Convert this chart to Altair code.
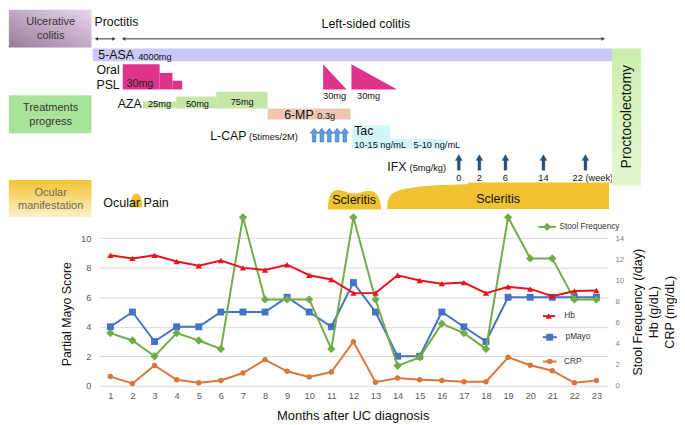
import altair as alt
import pandas as pd

# ---------------- data ----------------
months = list(range(1, 24))
pmayo = [4, 5, 3, 4, 4, 5, 5, 5, 6, 5, 4, 7, 5, 2, 2, 5, 4, 3, 6, 6, 6, 6, 6]
stool = [5.0, 4.3, 2.8, 5.0, 4.3, 3.5, 16.0, 8.2, 8.2, 8.2, 3.5, 16.0, 8.2, 1.9, 2.7,
         5.9, 5.0, 3.5, 16.0, 12.1, 12.1, 8.2, 8.2]
hb = [12.4, 12.1, 12.4, 11.8, 11.4, 11.9, 11.2, 11.0, 11.5, 10.5, 10.1, 8.8, 8.8, 10.5,
      10.0, 9.7, 9.8, 8.8, 9.4, 9.2, 8.5, 9.0, 9.05]
crp = [0.87, 0.22, 1.92, 0.56, 0.28, 0.5, 1.21, 2.48, 1.37, 0.84, 1.3, 4.18, 0.34, 0.74,
       0.56, 0.5, 0.37, 0.37, 2.7, 1.95, 1.43, 0.28, 0.5]
left_ticks = [0, 2, 4, 6, 8, 10]
right_ticks = [0, 2, 4, 6, 8, 10, 12, 14]

series_names = ["Stool Frequency", "Hb", "pMayo", "CRP"]
series_colors = {"Stool Frequency": "#70ad47", "Hb": "#e8141c", "pMayo": "#4472c4", "CRP": "#d8773c"}
series_shapes = {"Stool Frequency": "diamond", "Hb": "triangle-up", "pMayo": "square", "CRP": "circle"}
series_sizes = {"Stool Frequency": 70, "Hb": 40, "pMayo": 48, "CRP": 30}

# treatment periods (months after diagnosis)
asa_start, asa_end = [0.2], [23.7]
psl_start, psl_end = [1.56, 3.23, 3.81], [3.23, 3.81, 4.25]
psl_taper_start, psl_taper_end = [10.63, 11.91], [11.69, 13.98]
aza_start, aza_end = [2.48, 3.98, 5.79], [3.98, 5.79, 8.12]
mp_start, mp_end = [8.12], [11.87]
lcap_sessions = [10.22, 10.57, 10.91, 11.26, 11.61]
tac_start, tac_end = [11.91, 11.91], [13.67, 16.14]
ifx_months = [16.77, 17.70, 18.88, 20.60, 22.50]
ifx_weeks = ["0", "2", "6", "14"]

# ---------------- layout helpers ----------------
S = 0.98
X0, Y0 = 93.0, 207.0
W = round((615.3 - X0) * S)
H = round((386.5 - Y0) * S)
FONT = "Liberation Sans"


def px(x):
    return (x - X0) * S


def py(y):
    return (y - Y0) * S


X_SCALE = alt.Scale(domain=[0.5, 23.5], nice=False, zero=False)
X_AXIS = alt.Axis(values=months, title=None, grid=False, domain=False, ticks=False,
                  labelFontSize=9.5 * S, labelColor="#595959", labelPadding=6, labelFont=FONT)
ONE = pd.DataFrame({"a": [0]})


def mx(field):
    return alt.X(field, scale=X_SCALE, axis=X_AXIS)


def txt(rows, size, color="#111111", align="left", angle=0):
    df = pd.DataFrame({"t": [r[0] for r in rows],
                       "x": [px(r[1]) for r in rows],
                       "y": [py(r[2]) for r in rows]})
    return alt.Chart(df).mark_text(font=FONT, fontSize=size * S, color=color, align=align,
                                   baseline="middle", angle=angle).encode(
        x=alt.X("x:Q", scale=None), y=alt.Y("y:Q", scale=None), text="t:N")


def box(x1, x2, y1, y2, fill):
    return alt.Chart(ONE).mark_rect(fill=fill).encode(
        x=alt.value(px(x1)), x2=alt.value(px(x2)), y=alt.value(py(y1)), y2=alt.value(py(y2)))


def period(starts, ends, tops, bottoms, color):
    df = pd.DataFrame({"s": starts, "e": ends,
                       "t": [py(v) for v in tops], "b": [py(v) for v in bottoms]})
    return alt.Chart(df).mark_rect(color=color).encode(
        x=mx("s:Q"), x2="e:Q",
        y=alt.Y("t:Q", scale=None), y2="b:Q")


def grad(c1, c2, x1=0, y1=0, x2=0, y2=1):
    return alt.Gradient(gradient="linear",
                        stops=[alt.GradientStop(color=c1, offset=0), alt.GradientStop(color=c2, offset=1)],
                        x1=x1, y1=y1, x2=x2, y2=y2)


deco = []

# left category boxes
deco.append(box(0, 85, 0, 39, grad("#ead5ee", "#9a7b97", 1, 0, 0, 1)))
deco.append(box(0, 85, 88, 127, "#a9e29b"))
deco.append(box(0, 85, 175, 213, grad("#f1c232", "#fcf0c8")))
deco.append(txt([("Ulcerative", 43, 13), ("colitis", 43, 27)], 11.3, "#333333", "center"))
deco.append(txt([("Treatments", 43, 101), ("progress", 43, 115.5)], 11.3, "#333333", "center"))
deco.append(txt([("Ocular", 43, 188), ("manifestation", 43, 202)], 11.3, "#6e6450", "center"))

# disease extent arrows
for a, b in [(88, 110), (116, 613)]:
    deco.append(alt.Chart(ONE).mark_rule(color="#333333", strokeWidth=1).encode(
        x=alt.value(px(a + 2)), x2=alt.value(px(b - 2)), y=alt.value(py(30))))
    deco.append(alt.Chart(ONE).mark_point(shape="triangle-left", filled=True, color="#333333",
                                          size=14, opacity=1).encode(
        x=alt.value(px(a + 2)), y=alt.value(py(30))))
    deco.append(alt.Chart(ONE).mark_point(shape="triangle-right", filled=True, color="#333333",
                                          size=14, opacity=1).encode(
        x=alt.value(px(b - 2)), y=alt.value(py(30))))
deco.append(txt([("Proctitis", 88, 13)], 12.7))
deco.append(txt([("Left-sided colitis", 367, 15)], 12.7, align="center"))

# treatments
deco.append(period(asa_start, asa_end, [40], [53], "#c9c9f7"))
deco.append(period(psl_start, psl_end, [56, 65, 73], [82, 82, 82], "#dd338a"))
tri = pd.DataFrame({
    "id": [0, 0, 1, 1],
    "m": [psl_taper_start[0], psl_taper_end[0], psl_taper_start[1], psl_taper_end[1]],
    "y": [py(56), py(82), py(56), py(82)],
    "y2": [py(82)] * 4,
})
deco.append(alt.Chart(tri).mark_area(color="#dd338a", opacity=1).encode(
    x=mx("m:Q"), y=alt.Y("y:Q", scale=None), y2="y2:Q", detail="id:N"))
deco.append(period(aza_start, aza_end, [94.5, 89.3, 84.3], [101.7, 101.7, 101.7], "#c6e6a8"))
deco.append(period(mp_start, mp_end, [101.7], [113], "#eec6b0"))
deco.append(period(tac_start, tac_end, [119, 133], [133, 143.3], "#d2f6fa"))

lcap_df = pd.DataFrame({"m": lcap_sessions})
LCAP_ARROW = "M0,-1L0.56,-0.3L0.26,-0.3L0.26,1L-0.26,1L-0.26,-0.3L-0.56,-0.3Z"
deco.append(alt.Chart(lcap_df).mark_point(shape=LCAP_ARROW, filled=True, fill="#5b9ee0",
                                          stroke="#2f6db5", strokeWidth=0.6, size=(14 * S) ** 2,
                                          opacity=1).encode(
    x=mx("m:Q"), y=alt.value(py(129))))

ifx_df = pd.DataFrame({"m": ifx_months})
IFX_ARROW = "M0,-1L0.45,-0.25L0.19,-0.25L0.19,1L-0.19,1L-0.19,-0.25L-0.45,-0.25Z"
deco.append(alt.Chart(ifx_df).mark_point(shape=IFX_ARROW, filled=True, fill="#2f5070",
                                         stroke="#2f5070", strokeWidth=0.3, size=(16 * S) ** 2,
                                         opacity=1).encode(
    x=mx("m:Q"), y=alt.value(py(157))))
wk_df = pd.DataFrame({"m": ifx_months[:4], "w": ifx_weeks})
deco.append(alt.Chart(wk_df).mark_text(font=FONT, fontSize=9.5 * S, color="#111111",
                                       baseline="middle").encode(
    x=mx("m:Q"), y=alt.value(py(173)), text="w:N"))
deco.append(txt([("22 (week)", 579.5, 173)], 9.5))

deco.append(txt([("5-ASA", 92, 47), ("Oral", 90, 62.5), ("PSL", 90, 77), ("AZA", 112, 97),
                 ("6-MP", 283, 108), ("L-CAP", 207, 129.5), ("Tac", 355, 125),
                 ("IFX", 389, 161.5)], 12.7))
deco.append(txt([("30mg", 121, 76)], 11, "#222222"))
deco.append(txt([("4000mg", 133, 48.5), ("30mg", 323, 89), ("30mg", 358, 89),
                 ("25mg", 143, 97), ("50mg", 182, 97), ("75mg", 228, 94.7),
                 ("0.3g", 317, 109), ("(5times/2M)", 247, 130.5),
                 ("10-15 ng/mL", 355, 139), ("5-10 ng/mL", 416, 139),
                 ("(5mg/kg)", 412, 163)], 9.5))

# proctocolectomy
deco.append(box(620, 650, 40, 181, grad("#cdeeac", "#e4f7d2")))
deco.append(txt([("Proctocolectomy", 636, 110)], 14.4, align="center", angle=270))

# ocular manifestations (dome shapes)
domes = {
    0: [(125, 203), (125.3, 197), (127, 192), (129.5, 189.5), (131, 189), (132.5, 189.5),
        (135, 192), (136.7, 197), (137, 203)],
    1: [(327.7, 205.5), (328.5, 198), (331, 190), (335, 186), (339, 185), (344, 186.5),
        (350, 188.5), (356, 189), (362, 188), (368, 186.5), (372, 186.5), (377, 189),
        (380.5, 194), (382.2, 200), (382.7, 205.5)],
    2: [(389, 205), (389.3, 198), (391.5, 192), (396, 188), (404, 185), (418, 182.5),
        (440, 180.5), (470, 179.5), (471.6, 179.3), (471.8, 177.7), (617, 177.7)],
}
bottoms = {0: 203, 1: 205.5, 2: 205}
rows = []
for k, pts in domes.items():
    for (xx, yy) in pts:
        rows.append({"id": k, "x": px(xx), "y": py(yy), "y2": py(bottoms[k])})
dome_df = pd.DataFrame(rows)
deco.append(alt.Chart(dome_df).mark_area(color="#f0c232", opacity=1, interpolate="monotone").encode(
    x=alt.X("x:Q", scale=None), y=alt.Y("y:Q", scale=None), y2="y2:Q", detail="id:N"))
deco.append(txt([("Ocular Pain", 97, 198.3)], 12.9))
deco.append(txt([("Scleritis", 355, 196), ("Scleritis", 503, 195)], 12.9, align="center"))

# axis titles (manual)
deco.append(txt([("Partial Mayo Score", 60, 313)], 12.7, angle=270, align="center"))
deco.append(txt([("Stool Frequency (/day)", 647, 311), ("Hb (g/dL)", 663.5, 311),
                 ("CRP (mg/dL)", 680, 311)], 12.9, angle=270, align="center"))
deco.append(txt([("Months after UC diagnosis", 354, 418)], 13.3, align="center"))

# legend (manual, positioned inside plot)
legend_pos = {
    "Stool Frequency": (544.3, 562.3, 553.3, 223.3, 566),
    "Hb": (549, 561.7, 555, 315, 571),
    "pMayo": (549, 563.3, 556, 336.7, 572.3),
    "CRP": (549, 563, 556, 361.7, 570.7),
}
for name, (l1, l2, mxp, yy, tx) in legend_pos.items():
    deco.append(alt.Chart(ONE).mark_rule(color=series_colors[name], strokeWidth=2).encode(
        x=alt.value(px(l1)), x2=alt.value(px(l2)), y=alt.value(py(yy))))
    deco.append(alt.Chart(ONE).mark_point(shape=series_shapes[name], filled=True, opacity=1,
                                          color=series_colors[name],
                                          size=series_sizes[name]).encode(
        x=alt.value(px(mxp)), y=alt.value(py(yy))))
    deco.append(txt([(name, tx, yy)], 8.5, "#333333"))

# ---------------- main series ----------------
X_ENC = mx("month:Q")

right_df = pd.DataFrame({"month": months * 3, "value": stool + hb + crp,
                         "series": ["Stool Frequency"] * 23 + ["Hb"] * 23 + ["CRP"] * 23})
Y_RIGHT = alt.Y("value:Q", scale=alt.Scale(domain=[0, 16.6], nice=False, zero=True),
                axis=alt.Axis(orient="right", values=right_ticks, title=None, grid=False,
                              domain=False, ticks=False, labelFontSize=8 * S,
                              labelColor="#7f7f7f", labelPadding=7.5, labelFont=FONT))
right_layers = []
for name in ["Stool Frequency", "Hb", "CRP"]:
    sub = right_df[right_df["series"] == name]
    right_layers.append(alt.Chart(sub).mark_line(color=series_colors[name], strokeWidth=2).encode(
        x=X_ENC, y=Y_RIGHT))
    right_layers.append(alt.Chart(sub).mark_point(shape=series_shapes[name], filled=True, opacity=1,
                                                  color=series_colors[name],
                                                  size=series_sizes[name]).encode(x=X_ENC, y=Y_RIGHT))
right_group = alt.layer(*right_layers)

left_df = pd.DataFrame({"month": months, "pMayo": pmayo})
Y_LEFT = alt.Y("pMayo:Q", scale=alt.Scale(domain=[0, 11.85], nice=False, zero=True),
               axis=alt.Axis(orient="left", values=left_ticks, title=None, grid=True,
                             gridColor="#d9d9d9", gridWidth=1, domain=False, ticks=False,
                             labelFontSize=9.5 * S, labelColor="#595959", labelPadding=8.5,
                             labelFont=FONT))
left_group = alt.layer(
    alt.Chart(left_df).mark_line(color=series_colors["pMayo"], strokeWidth=2).encode(x=X_ENC, y=Y_LEFT),
    alt.Chart(left_df).mark_point(shape="square", filled=True, opacity=1, color=series_colors["pMayo"],
                                  size=series_sizes["pMayo"]).encode(x=X_ENC, y=Y_LEFT),
)

chart = alt.layer(left_group, right_group, *deco).resolve_scale(y="independent").properties(
    width=W, height=H, padding=0, background="white"
).configure_view(stroke=None)

chart.save("out.html", embed_options={"renderer": "svg", "actions": False})
